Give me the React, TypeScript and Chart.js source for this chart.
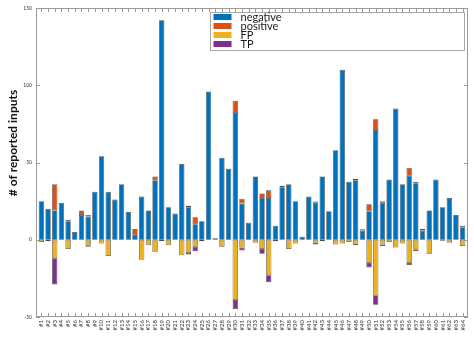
import { useEffect, useRef } from 'react';
import { Chart, registerables } from 'chart.js';

Chart.register(...registerables);

const categories = [
  '#1', '#2', '#3', '#4', '#5', '#6', '#7', '#8', '#9', '#10', '#11', '#12', '#13', '#14', '#15', '#16',
  '#17', '#18', '#19', '#20', '#21', '#22', '#23', '#24', '#25', '#26', '#27', '#28', '#29', '#30', '#31', '#32',
  '#33', '#34', '#35', '#36', '#37', '#38', '#39', '#40', '#41', '#42', '#43', '#44', '#45', '#46', '#47', '#48',
  '#49', '#50', '#51', '#52', '#53', '#54', '#55', '#56', '#57', '#58', '#59', '#60', '#61', '#62', '#63', '#64',
];

const negativeCounts = [
  25, 20, 19, 24, 12, 5, 16, 15, 31, 54, 31, 26, 36, 18, 3, 28,
  19, 38.5, 142, 21, 17, 49, 21, 10, 12, 96, 1, 53, 46, 82, 23.5, 11,
  41, 27, 27, 9, 34, 36, 25, 2, 28, 24, 41, 18.5, 58, 110, 37.5, 38.5,
  6, 18.5, 71, 24, 39, 85, 36, 41.5, 36.5, 6, 19, 39, 21, 27, 16, 8,
];

const positiveCounts = [
  0, 0, 17, 0, 1, 0, 3, 1, 0, 0, 0, 0, 0, 0, 4, 0,
  0, 2.5, 0, 0, 0, 0, 1, 4.5, 0, 0, 0, 0, 0, 8, 3, 0,
  0, 3, 5, 0, 1, 0, 0, 0, 0, 0.8, 0, 0, 0, 0, 0, 0.8,
  0.8, 4.5, 7, 1, 0, 0, 0, 5, 1, 1, 0, 0, 0, 0, 0, 1,
];

const fpCounts = [
  -1.5, -1, -12, 0, -6, 0, 0, -3.5, 0, -2.5, -10.5, 0, 0, 0, 0, -13,
  -3.5, -8, -1, -3.5, 0, -10, -8.5, -4.5, -1, 0, 0, -4.5, 0, -39, -5, 0,
  -2, -6, -23, -1, 0, -6, -2.5, 0, 0, -2, -1, 0, -3, -2.5, -1.5, -2.5,
  0, -15, -36, -3, -1.5, -5, -2.5, -15, -6.5, 0, -9, 0, -0.7, -2, 0, -4,
];

const tpCounts = [
  0, 0, -17, 0, 0, 0, 0, -1, 0, 0, 0, 0, 0, 0, 0, 0,
  0, 0, 0, 0, 0, 0, -1, -3, 0, 0, 0, 0, 0, -6, -2, 0,
  0, -3, -4.5, 0, 0, 0, 0, 0, 0, -1, 0, 0, 0, 0, 0, -1,
  0, -3, -6, -1, 0, 0, 0, -1.3, -1, 0, 0, 0, 0, 0, 0, 0,
];

const seriesNames = ['negative', 'positive', 'FP', 'TP'];
const seriesColors = ['#0072BD', '#D95319', '#EDB120', '#7E2F8E'];
const yMin = -50;
const yMax = 150;
const yStep = 50;
const yTitle = '# of reported inputs';

function toPoints(values: number[]) {
  return values.map((v, i) => ({ x: i + 1, y: v === 0 ? null : v }));
}

const decorPlugin = {
  id: 'decor',
  afterDraw(chart: any) {
    const { ctx, chartArea: a, scales } = chart;
    ctx.save();
    // frame
    ctx.strokeStyle = '#9a9a9a';
    ctx.lineWidth = 1;
    ctx.strokeRect(a.left + 0.5, a.top + 0.5, a.right - a.left - 1, a.bottom - a.top - 1);
    // inward ticks
    ctx.beginPath();
    scales.x.ticks.forEach((t: any) => {
      const x = Math.round(scales.x.getPixelForValue(t.value)) + 0.5;
      ctx.moveTo(x, a.bottom);
      ctx.lineTo(x, a.bottom - 4);
      ctx.moveTo(x, a.top);
      ctx.lineTo(x, a.top + 4);
    });
    scales.y.ticks.forEach((t: any) => {
      const y = Math.round(scales.y.getPixelForValue(t.value)) + 0.5;
      ctx.moveTo(a.left, y);
      ctx.lineTo(a.left + 4, y);
      ctx.moveTo(a.right, y);
      ctx.lineTo(a.right - 4, y);
    });
    ctx.stroke();

    // legend box
    const bx = a.left + 174.5;
    const by = a.top + 4.5;
    const bw = 254;
    const bh = 38;
    ctx.fillStyle = '#ffffff';
    ctx.fillRect(bx, by, bw, bh);
    ctx.strokeStyle = '#a8a8a8';
    ctx.strokeRect(bx, by, bw, bh);
    ctx.font = '11px Lato, "Open Sans", sans-serif';
    ctx.textBaseline = 'middle';
    ctx.textAlign = 'left';
    seriesNames.forEach((name, i) => {
      const cy = by + 4.5 + i * 9;
      ctx.fillStyle = seriesColors[i];
      ctx.fillRect(bx + 3, cy - 3, 18, 6);
      ctx.fillStyle = '#1a1a1a';
      ctx.fillText(name, bx + 30, cy);
    });

    // y title
    ctx.translate(13, 143);
    ctx.rotate(-Math.PI / 2);
    ctx.textAlign = 'center';
    ctx.textBaseline = 'middle';
    ctx.fillStyle = '#111111';
    ctx.font = 'bold 12px Lato, "Open Sans", sans-serif';
    ctx.fillText(yTitle, 0, 0);
    ctx.restore();
  },
};

export default function App() {
  const canvasRef = useRef<HTMLCanvasElement | null>(null);

  useEffect(() => {
    if (!canvasRef.current) return;
    const series = [negativeCounts, positiveCounts, fpCounts, tpCounts];
    const chart = new Chart(canvasRef.current, {
      type: 'bar',
      data: {
        datasets: series.map((vals, i) => ({
          label: seriesNames[i],
          data: toPoints(vals) as any,
          backgroundColor: seriesColors[i],
          borderColor: 'rgba(30,30,30,0.8)',
          borderWidth: 0.7,
          borderSkipped: false,
          barPercentage: 0.8,
          categoryPercentage: 1,
        })),
      },
      options: {
        animation: false,
        responsive: false,
        devicePixelRatio: 1,
        layout: { padding: { top: 8, right: 6, left: 0, bottom: 0 } },
        plugins: {
          legend: { display: false },
          tooltip: { enabled: false },
        },
        scales: {
          x: {
            type: 'linear',
            stacked: true,
            offset: false,
            min: 0.2,
            max: 64.8,
            grid: { display: false, drawTicks: false, offset: false },
            border: { display: false },
            ticks: {
              stepSize: 1,
              includeBounds: false,
              autoSkip: false,
              maxRotation: 90,
              minRotation: 90,
              padding: 3,
              color: '#333',
              font: { size: 6, family: 'Lato, sans-serif' },
              callback: (v: any) => categories[Number(v) - 1] ?? '',
            },
            afterFit: (s: any) => { s.height = 25; },
          },
          y: {
            stacked: true,
            min: yMin,
            max: yMax,
            grid: { display: false, drawTicks: false },
            border: { display: false },
            ticks: {
              stepSize: yStep,
              padding: 4,
              color: '#333',
              font: { size: 5, family: 'Lato, sans-serif' },
            },
            afterFit: (s: any) => { s.width = 36; },
          },
        },
      },
      plugins: [decorPlugin],
    });
    return () => chart.destroy();
  }, []);

  return (
    <div style={{ position: 'absolute', left: 0, top: 0, width: 474, height: 342, background: '#fff' }}>
      <canvas ref={canvasRef} width={474} height={342} style={{ width: 474, height: 342, display: 'block' }} />
    </div>
  );
}
